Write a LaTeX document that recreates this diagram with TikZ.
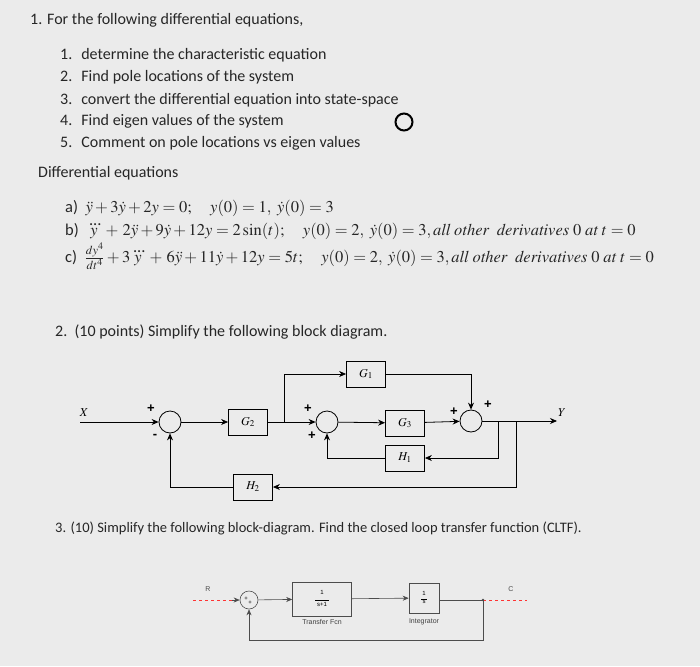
\documentclass[tikz,border=0pt]{standalone}
\usepackage{amsmath}
\usepackage{mathptmx}
\usepackage{fontspec}
\setmainfont{Carlito}
\newfontfamily\eqf{Liberation Serif}
\newfontfamily\sff{Liberation Sans}
\usetikzlibrary{arrows.meta}
\begin{document}
\begin{tikzpicture}[x=1pt,y=-1pt,
  txt/.style={anchor=base west,inner sep=0pt,font=\fontsize{16}{18}\selectfont,text=black!85},
  eq/.style={anchor=base west,inner sep=0pt,font=\fontsize{16.5}{18}\selectfont,text=black!85},
  blk/.style={draw,line width=0.8pt,minimum width=39pt,minimum height=26pt,inner sep=0pt,font=\fontsize{12}{13}\selectfont},
  sm/.style={draw,circle,line width=0.8pt,minimum size=22pt,inner sep=0pt},
  ln/.style={line width=0.8pt,-{Stealth[length=7pt,width=6pt]}},
  sg/.style={font=\sff\bfseries\fontsize{13}{13}\selectfont,inner sep=0pt},
  sb/.style={draw=black!70,line width=0.6pt,inner sep=0pt,font=\sff\fontsize{6}{7}\selectfont},
  sl/.style={line width=0.6pt,draw=black!70,-{Stealth[length=6pt,width=5pt]}},
  rd/.style={red!80,dashed,line width=0.7pt}]
\fill[black!8] (0,0) rectangle (700,666);
\node[txt] (t1) at (30,25) {1. For the following differential equations,};
\node[txt] (l1) at (60,60) {1.\hspace{9pt}determine the characteristic equation};
\node[txt] (l2) at (60,82) {2.\hspace{9pt}Find pole locations of the system};
\node[txt] (l3) at (60,104) {3.\hspace{9pt}convert the differential equation into state-space};
\node[txt] (l4) at (60,125) {4.\hspace{9pt}Find eigen values of the system};
\node[txt] (l5) at (60,147) {5.\hspace{9pt}Comment on pole locations vs eigen values};
\node[draw,circle,line width=2pt,minimum size=17pt,inner sep=0pt] (o) at (404,122) {};
\node[txt] (de) at (38,177) {Differential equations};
\node[eq] (ea) at (65,212) {a)\ \ $\ddot{y}+3\dot{y}+2y=0;\quad y(0)=1,\ \dot{y}(0)=3$};
\node[eq] (eb) at (65,235) {b)\ \ $\dddot{y}\,+\,2\ddot{y}+9\dot{y}+12y=2\sin(t);\quad y(0)=2,\ \dot{y}(0)=3,\mathit{all\ other\ \ derivatives}\ 0\ \mathit{at}\ t=0$};
\node[eq] (ec) at (65,262) {c)\ \ $\frac{dy^4}{dt^4}+3\dddot{y}\,+\,6\ddot{y}+11\dot{y}+12y=5t;\quad y(0)=2,\ \dot{y}(0)=3,\mathit{all\ other\ \ derivatives}\ 0\ \mathit{at}\ t=0$};
\node[txt] (t2) at (55,336) {2.\ \ (10 points) Simplify the following block diagram.};
% block diagram 1
\node[font=\fontsize{12}{13}\selectfont,inner sep=0pt] (X) at (84,413) {$X$};
\coordinate (xs) at (80,422);
\node[sm] (s1) at (170,422) {};
\node[blk] (G2) at (248,422) {$G_2$};
\coordinate (b1) at (284,422);
\node[blk] (G1) at (366,374) {$G_1$};
\node[sm] (s2) at (327,422) {};
\node[blk] (G3) at (405,423) {$G_3$};
\node[sm] (s3) at (471,421) {};
\coordinate (t1p) at (498,421);
\coordinate (t2p) at (516,421);
\coordinate (Ye) at (557,421);
\node[font=\fontsize{12}{13}\selectfont,inner sep=0pt] (Y) at (562,413) {$Y$};
\node[blk] (H1) at (405,458) {$H_1$};
\node[blk] (H2) at (253,487) {$H_2$};
\draw[ln] (xs) -- (s1);
\draw[ln] (s1) -- (G2);
\draw[ln] (G2) -- (s2);
\draw[ln] (b1) |- (G1);
\draw[ln] (G1) -| (s3);
\draw[ln] (s2) -- (G3);
\draw[ln] (G3) -- (s3);
\draw[ln] (s3) -- (Ye);
\draw[ln] (t1p) |- (H1);
\draw[ln] (H1) -| (s2);
\draw[ln] (t2p) |- (H2);
\draw[ln] (H2) -| (s1);
\node[sg] (p1) at (151,409) {+};
\node[sg] (m1) at (155,436) {-};
\node[sg] (p2) at (308,409) {+};
\node[sg] (p3) at (312,436) {+};
\node[sg] (p4) at (454,412) {+};
\node[sg] (p5) at (488,405) {+};
\node[txt,font=\fontsize{14.5}{16}\selectfont] (t3) at (55,532) {3. (10) Simplify the following block-diagram. Find the closed loop transfer function (CLTF).};
% block diagram 2
\coordinate (r0) at (193,600);
\coordinate (r1) at (232,600);
\node[font=\sff\fontsize{7}{8}\selectfont,text=black!70,inner sep=0pt] (R) at (208,589) {R};
\node[draw=black!70,circle,line width=0.6pt,minimum size=18pt,inner sep=0pt] (s4) at (249,600) {};
\node[font=\sff\fontsize{6}{6}\selectfont,inner sep=0pt] (s4a) at (246,599) {+};
\node[font=\sff\fontsize{6}{6}\selectfont,inner sep=0pt] (s4b) at (250,603) {+};
\node[sb,minimum width=59pt,minimum height=34pt] (TF) at (322,599) {\begin{tabular}{c}1\\[-1pt]\rule{14pt}{0.4pt}\\[-1pt]s+1\end{tabular}};
\node[font=\sff\fontsize{7}{8}\selectfont,text=black!75] (TFl) at (322,622) {Transfer Fcn};
\node[sb,minimum width=30pt,minimum height=30pt] (IN) at (424,598) {\begin{tabular}{c}1\\[-3pt]\rule{6pt}{0.4pt}\\[-3pt]s\end{tabular}};
\node[font=\sff\fontsize{7}{8}\selectfont,text=black!75] (INl) at (424,622) {Integrator};
\coordinate (j) at (483,600);
\coordinate (c1) at (527,600);
\coordinate (fb) at (483,640);
\node[font=\sff\fontsize{7}{8}\selectfont,text=black!70,inner sep=0pt] (C) at (511,589) {C};
\draw[rd] (r0) -- (r1);
\draw[sl] (r1) -- (s4);
\draw[sl] (s4) -- (TF);
\draw[sl] (TF) -- (IN);
\draw[line width=0.6pt,draw=black!70] (IN.east|-j) -- (j);
\fill[black!70] (j) circle (1.3pt);
\draw[rd] (j) -- (c1);
\draw[sl] (j) -- (fb) -| (s4);
\end{tikzpicture}
\end{document}
